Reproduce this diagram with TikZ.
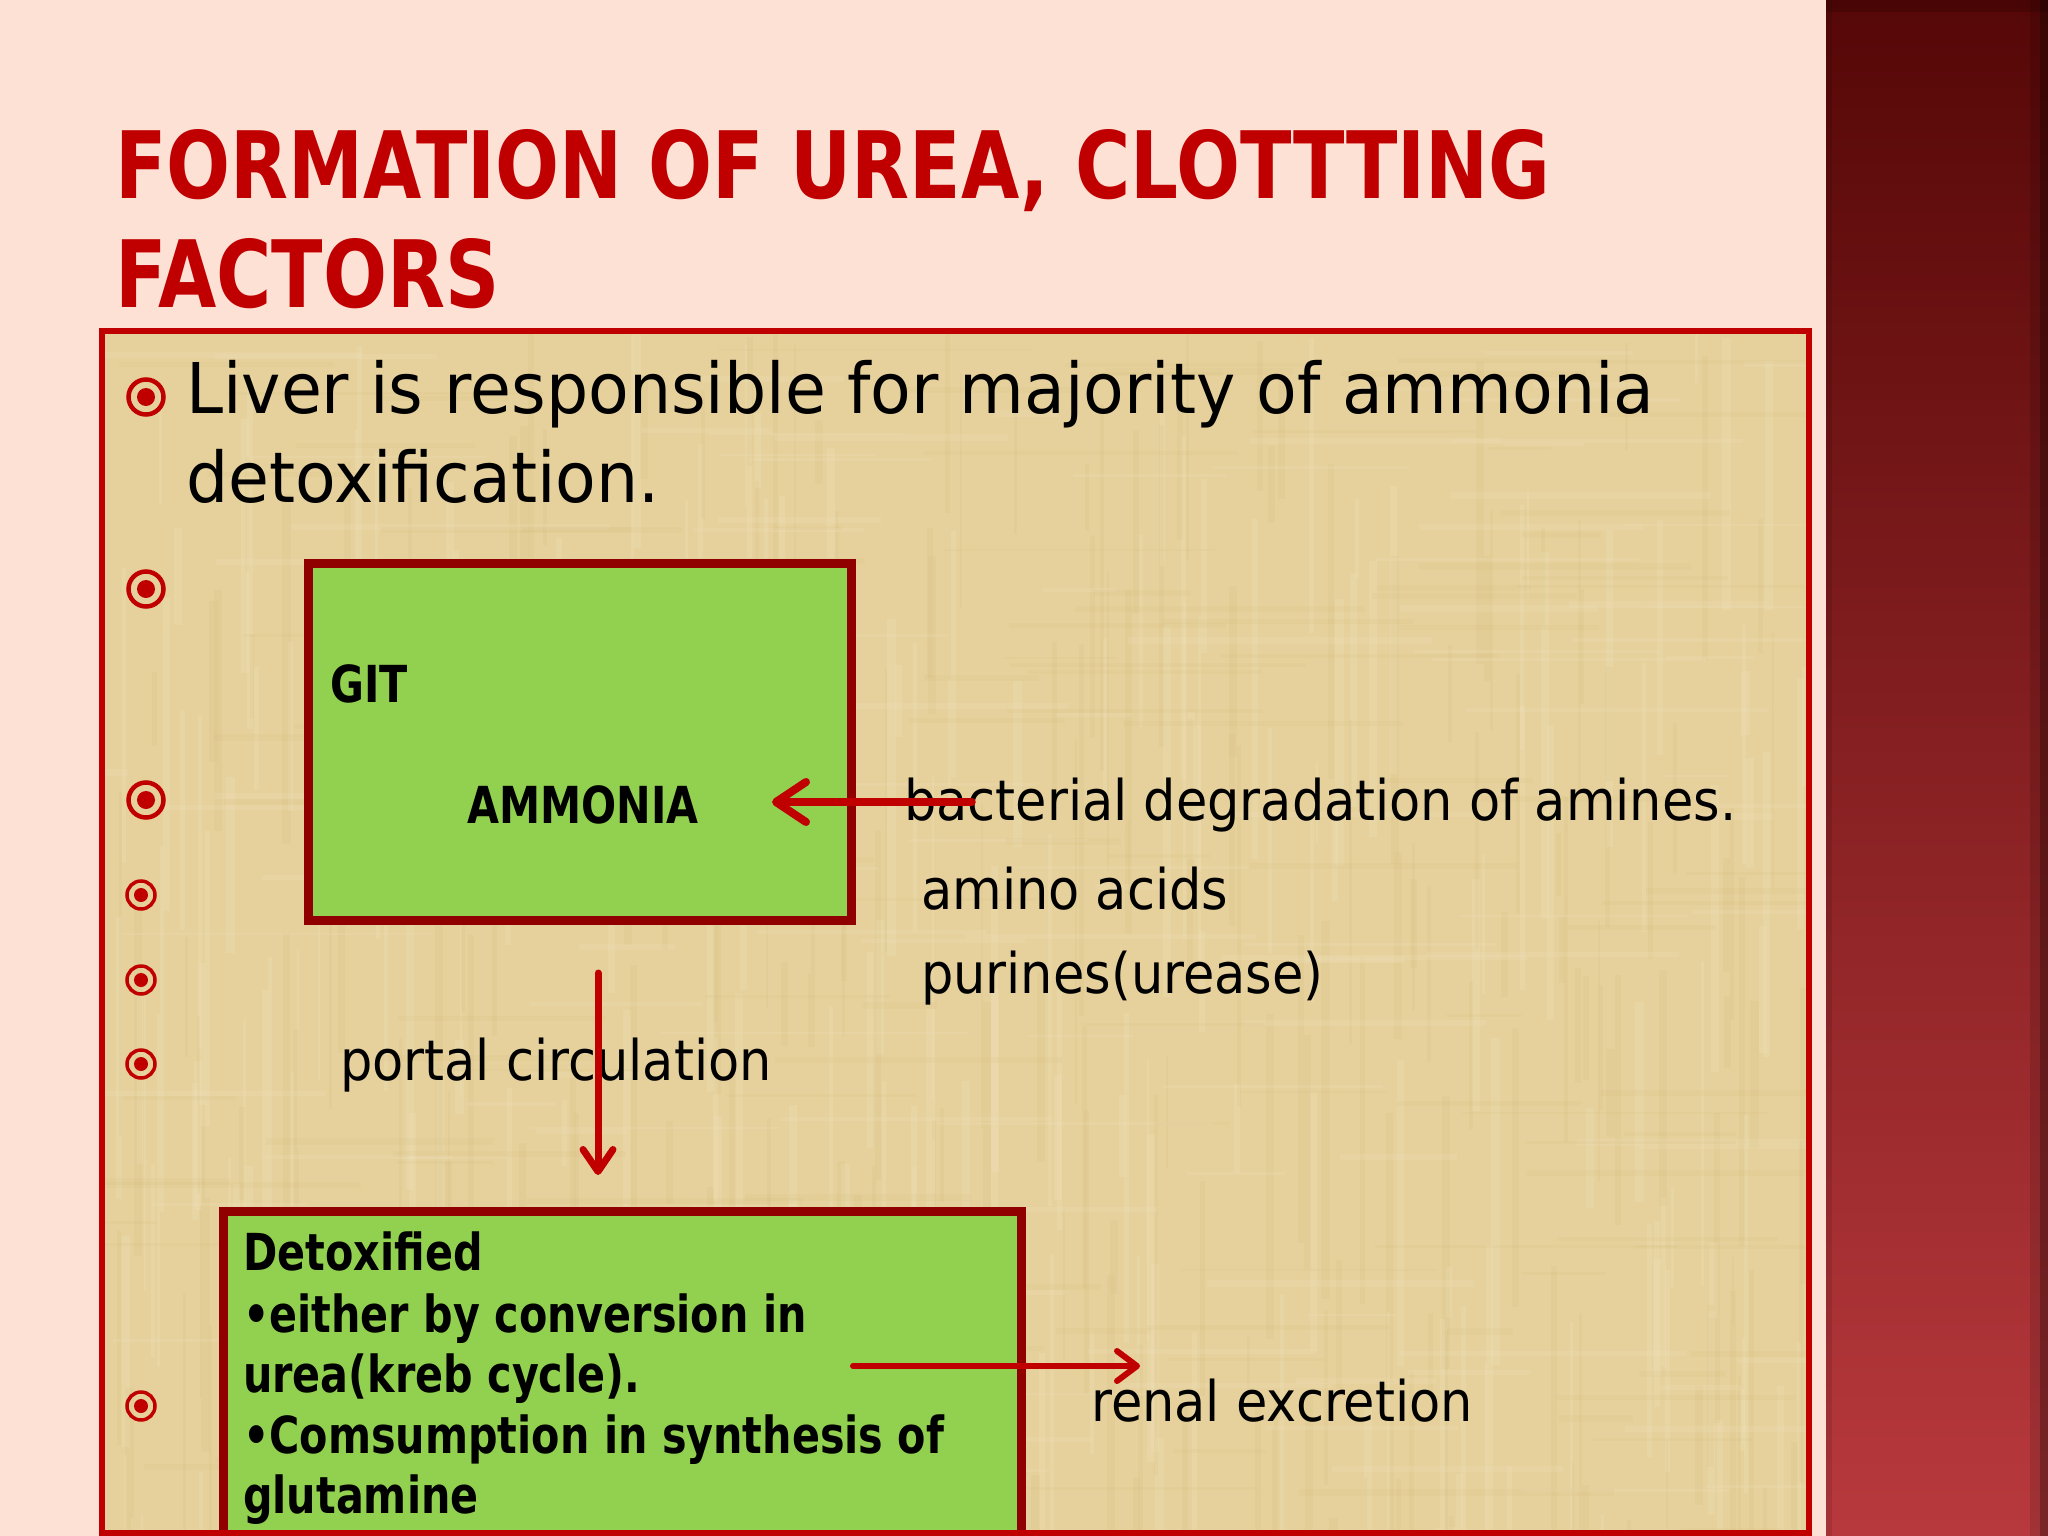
\documentclass[tikz,border=0pt]{standalone}
\usepackage{fontspec}
\usetikzlibrary{arrows.meta}
\newfontfamily\bodyfont{DejaVu Sans}[FakeStretch=0.91]
\newfontfamily\leadfont{DejaVu Sans}[FakeStretch=0.95]
\newfontfamily\boxfont{DejaVu Sans}[FakeStretch=0.81]
\newfontfamily\headfont{DejaVu Sans}[FakeStretch=0.81]
\definecolor{pagebg}{HTML}{FDE1D5}
\definecolor{titlered}{HTML}{C00000}
\definecolor{boxborder}{HTML}{900000}
\definecolor{boxgreen}{HTML}{92D050}
\definecolor{parch}{HTML}{E6D19D}
\definecolor{parchdark}{HTML}{C9AD62}
\definecolor{parchlight}{HTML}{F4E8C6}
\definecolor{bandtop}{HTML}{560707}
\definecolor{bandmid}{HTML}{8A2226}
\definecolor{bandbot}{HTML}{B8393D}
\tikzset{
  titletext/.style={anchor=base west, inner sep=0pt, text=titlered, font=\headfont\bfseries\fontsize{93}{100}\selectfont},
  bodytext/.style={anchor=base west, inner sep=0pt, font=\bodyfont\fontsize{56}{60}\selectfont},
  leadtext/.style={anchor=base west, inner sep=0pt, font=\leadfont\fontsize{70}{80}\selectfont},
  boxtext/.style={anchor=base west, inner sep=0pt, font=\boxfont\bfseries\fontsize{51}{60}\selectfont},
  greenbox/.style={draw=boxborder, fill=boxgreen, line width=9pt},
  redarrow/.style={draw=titlered, line cap=round},
  bigbul/.style={circle, draw=titlered, line width=4.5pt, minimum size=35pt, inner sep=0pt,
    path picture={\fill[titlered] (path picture bounding box.center) circle (9pt);}},
  smallbul/.style={circle, draw=titlered, line width=3.5pt, minimum size=28pt, inner sep=0pt,
    path picture={\fill[titlered] (path picture bounding box.center) circle (7pt);}}
}
\begin{document}
\begin{tikzpicture}[x=1pt,y=-1pt]
\useasboundingbox (0,0) rectangle (2048,1536);
\clip (0,0) rectangle (2048,1536);
% page background
\fill[pagebg] (0,0) rectangle (2048,1536);
% right band
\shade[top color=bandtop, middle color=bandmid, bottom color=bandbot] (1826,0) rectangle (2048,1536);
\fill[black, opacity=0.12] (2030,0) rectangle (2048,1536);
\fill[black, opacity=0.25] (2040,0) rectangle (2048,1536);
\fill[black, opacity=0.10] (1826,0) rectangle (1832,1536);
\fill[black, opacity=0.15] (1826,0) rectangle (2048,12);
% title
\node[titletext] (title1) at (115,198) {FORMATION OF UREA, CLOTTTING};
\node[titletext] (title2) at (115,307) {FACTORS};
% content panel fill with parchment texture
\fill[parch] (102,331) rectangle (1809,1533);
\begin{scope}
\clip (104,333) rectangle (1807,1531);
\pgfmathsetseed{12}
\foreach \i in {1,...,220} {
  \pgfmathsetmacro{\xx}{104+1700*rnd}
  \pgfmathsetmacro{\yy}{300+1250*rnd}
  \pgfmathsetmacro{\hh}{60+320*rnd}
  \pgfmathsetmacro{\ww}{2+7*rnd}
  \fill[parchlight, opacity=0.18] (\xx,\yy) rectangle ++(\ww,\hh);
}
\foreach \i in {1,...,220} {
  \pgfmathsetmacro{\xx}{104+1700*rnd}
  \pgfmathsetmacro{\yy}{300+1250*rnd}
  \pgfmathsetmacro{\hh}{60+320*rnd}
  \pgfmathsetmacro{\ww}{2+7*rnd}
  \fill[parchdark, opacity=0.09] (\xx,\yy) rectangle ++(\ww,\hh);
}
\foreach \i in {1,...,120} {
  \pgfmathsetmacro{\xx}{60+1700*rnd}
  \pgfmathsetmacro{\yy}{333+1200*rnd}
  \pgfmathsetmacro{\hh}{60+260*rnd}
  \pgfmathsetmacro{\ww}{2+5*rnd}
  \fill[parchlight, opacity=0.15] (\xx,\yy) rectangle ++(\hh,\ww);
}
\foreach \i in {1,...,120} {
  \pgfmathsetmacro{\xx}{60+1700*rnd}
  \pgfmathsetmacro{\yy}{333+1200*rnd}
  \pgfmathsetmacro{\hh}{60+260*rnd}
  \pgfmathsetmacro{\ww}{2+5*rnd}
  \fill[parchdark, opacity=0.08] (\xx,\yy) rectangle ++(\hh,\ww);
}
\end{scope}
% bullets
\node[bigbul] (b1) at (146,397) {};
\node[bigbul] (b2) at (146,589) {};
\node[bigbul] (b3) at (146,800) {};
\node[smallbul] (b4) at (141,895) {};
\node[smallbul] (b5) at (141,980) {};
\node[smallbul] (b6) at (141,1064) {};
\node[smallbul] (b7) at (141,1406) {};
% lead text
\node[leadtext] (lead1) at (186,413) {Liver is responsible for majority of ammonia};
\node[leadtext] (lead2) at (186,502) {detoxification.};
% GIT box
\draw[greenbox] (308.5,563.5) rectangle (851.5,920.5);
\node[boxtext] (git) at (330,702) {GIT};
\node[boxtext] (ammonia) at (467,823) {AMMONIA};
% sources
\node[bodytext] (bact) at (904,820) {bacterial degradation of amines.};
\node[bodytext] (amino) at (921,909) {amino acids};
\node[bodytext] (purines) at (921,993) {purines(urease)};
\node[bodytext] (portal) at (340,1080) {portal circulation};
% detox box
\draw[greenbox] (223.5,1211.5) rectangle (1021.5,1560);
\node[boxtext] (detox1) at (243,1270) {Detoxified};
\node[boxtext] (detox2) at (243,1332) {•either by conversion in};
\node[boxtext] (detox3) at (243,1392) {urea(kreb cycle).};
\node[boxtext] (detox4) at (243,1453) {•Comsumption in synthesis of};
\node[boxtext] (detox5) at (243,1513) {glutamine};
\node[bodytext] (renal) at (1091,1421) {renal excretion};
% arrows
\coordinate (bactTail) at (972,802);
\coordinate (ammTip) at (772,802);
\coordinate (portalTail) at (598,973);
\coordinate (portalTip) at (598,1175);
\coordinate (renalTail) at (853,1366);
\coordinate (renalTip) at (1140,1366);
\draw[redarrow, line width=7.5pt, -{Straight Barb[length=30pt,width=40pt,round,line width=8pt]}] (bactTail) -- (ammTip);
\draw[redarrow, line width=7pt, -{Straight Barb[length=22pt,width=30pt,round,line width=7pt]}] (portalTail) -- (portalTip);
\draw[redarrow, line width=6pt, -{Straight Barb[length=20pt,width=30pt,round,line width=6pt]}] (renalTail) -- (renalTip);
% content panel border
\draw[titlered, line width=6pt] (102,331) rectangle (1809,1533);
\end{tikzpicture}
\end{document}
